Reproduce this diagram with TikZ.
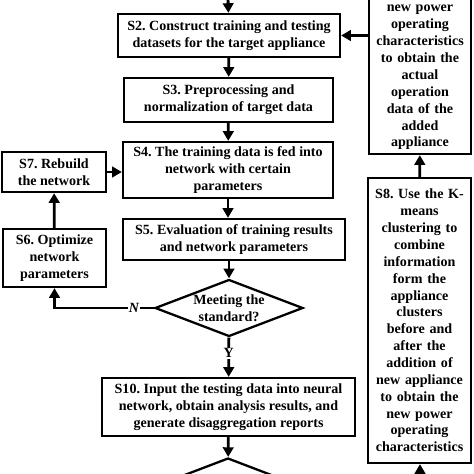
\documentclass[tikz,border=0pt]{standalone}
\usepackage{fontspec}
\setmainfont{Liberation Serif}
\frenchspacing
\usetikzlibrary{arrows.meta,shapes.geometric}

\tikzset{
  step box/.style={rectangle, draw, line width=1.3pt, align=center, inner sep=1pt, font=\fontsize{8}{9.6}\selectfont\bfseries},
  side box/.style={step box, text width=1.98cm},
  check/.style={diamond, draw, line width=1.3pt, aspect=2.6, minimum width=148*0.02cm, minimum height=57*0.02cm, inner sep=0pt, align=center, font=\fontsize{8}{9.6}\selectfont\bfseries},
  arrow/.style={-{Triangle[length=5.5pt, width=6pt]}, line width=1.6pt},
  answer/.style={fill=white, inner sep=0.5pt, font=\fontsize{8}{9}\selectfont\bfseries},
}

\begin{document}
\begin{tikzpicture}[x=0.02cm, y=-0.02cm]
  \useasboundingbox (0,0) rectangle (474,474);
  \clip (0,0) rectangle (474,474);

  % Hauptstrang (Mitte)
  \node[step box, minimum width=222*0.02cm, minimum height=43*0.02cm] (s2) at (229, 35.5) {S2. Construct training and testing\\datasets for the target appliance};
  \node[step box, minimum width=209*0.02cm, minimum height=44*0.02cm] (s3) at (228.5, 100) {S3. Preprocessing and\\normalization of target data};
  \node[step box, minimum width=210*0.02cm, minimum height=56*0.02cm] (s4) at (228, 170) {S4. The training data is fed into\\network with certain\\parameters};
  \node[step box, minimum width=222*0.02cm, minimum height=41*0.02cm] (s5) at (234, 239.5) {S5. Evaluation of training results\\and network parameters};
  \node[check] (meet) at (229, 308) {Meeting the\\standard?};
  \node[step box, minimum width=253*0.02cm, minimum height=58*0.02cm] (s10) at (228.5, 407) {S10. Input the testing data into neural\\network, obtain analysis results, and\\generate disaggregation reports};
  \node[check] (added) at (228, 486.5) {};

  % Rueckkopplung (links)
  \node[step box, minimum width=104*0.02cm, minimum height=40*0.02cm] (s7) at (54, 172) {S7. Rebuild\\the network};
  \node[step box, minimum width=103*0.02cm, minimum height=58*0.02cm] (s6) at (54.5, 258) {S6. Optimize\\network\\parameters};

  % Neues Geraet (rechts), oben abgeschnitten
  \node[side box, minimum width=102*0.02cm, minimum height=163*0.02cm] (s9) at (420, 72.5) {\mbox{}\\new power\\operating\\characteristics\\to obtain the\\actual\\operation\\data of the\\added\\appliance};
  \node[side box, minimum width=103*0.02cm, minimum height=285*0.02cm] (s8) at (419.5, 320.5) {S8. Use the K-\\means\\clustering to\\combine\\information\\form the\\appliance\\clusters\\before and\\after the\\addition of\\new appliance\\to obtain the\\new power\\operating\\characteristics};

  \coordinate (in top) at (228, -2);
  \coordinate (in s8) at (420, 476);

  % Verbindungen
  \draw[arrow] (in top) -- (s2);
  \draw[arrow] (s9.west |- s2.east) -- (s2.east);
  \draw[arrow] (s2) -- (s3);
  \draw[arrow] (s3) -- (s4);
  \draw[arrow] (s4) -- (s5.north -| s4.south);
  \draw[arrow] (s5.south -| meet.north) -- (meet);
  \draw[arrow] (meet.west) -| node[answer, pos=0.1, font=\fontsize{8}{9}\selectfont\bfseries\itshape] {N} (s6.south);
  \draw[arrow] (s6) -- (s7);
  \draw[arrow] (s7.east) -- (s4.west |- s7.east);
  \draw[arrow] (meet) -- node[answer, pos=0.4] {Y} (s10);
  \draw[arrow] (s10) -- (added);
  \draw[arrow] (s8) -- (s9);
  \draw[arrow] (in s8) -- (s8);
\end{tikzpicture}
\end{document}
